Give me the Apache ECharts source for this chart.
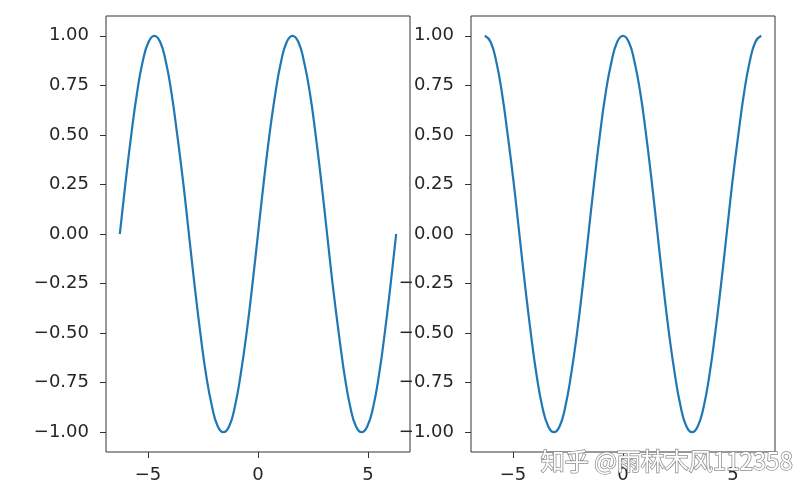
<!DOCTYPE html>
<html>
<head>
<meta charset="utf-8">
<script src="https://cdn.jsdelivr.net/npm/echarts@6/dist/echarts.min.js"></script>
<style>
  html, body { margin: 0; padding: 0; background: #fff; }
  #main { width: 812px; height: 496px; }
</style>
</head>
<body>
<div id="main"></div>
<script>
// x 取样点 (-2π .. 2π)
var xs = [-6.28, -6.02, -5.76, -5.50, -5.24, -4.97, -4.71, -4.45, -4.19, -3.93, -3.67, -3.40,
  -3.14, -2.88, -2.62, -2.36, -2.09, -1.83, -1.57, -1.31, -1.05, -0.79, -0.52, -0.26,
  0, 0.26, 0.52, 0.79, 1.05, 1.31, 1.57, 1.83, 2.09, 2.36, 2.62, 2.88,
  3.14, 3.40, 3.67, 3.93, 4.19, 4.45, 4.71, 4.97, 5.24, 5.50, 5.76, 6.02, 6.28];
// 左图 sin
var sinVals = [0, 0.26, 0.5, 0.71, 0.87, 0.97, 1, 0.97, 0.87, 0.71, 0.5, 0.26,
  0, -0.26, -0.5, -0.71, -0.87, -0.97, -1, -0.97, -0.87, -0.71, -0.5, -0.26,
  0, 0.26, 0.5, 0.71, 0.87, 0.97, 1, 0.97, 0.87, 0.71, 0.5, 0.26,
  0, -0.26, -0.5, -0.71, -0.87, -0.97, -1, -0.97, -0.87, -0.71, -0.5, -0.26, 0];
// 右图 cos
var cosVals = [1, 0.97, 0.87, 0.71, 0.5, 0.26, 0, -0.26, -0.5, -0.71, -0.87, -0.97,
  -1, -0.97, -0.87, -0.71, -0.5, -0.26, 0, 0.26, 0.5, 0.71, 0.87, 0.97,
  1, 0.97, 0.87, 0.71, 0.5, 0.26, 0, -0.26, -0.5, -0.71, -0.87, -0.97,
  -1, -0.97, -0.87, -0.71, -0.5, -0.26, 0, 0.26, 0.5, 0.71, 0.87, 0.97, 1];
var xTicks = [-5, 0, 5];
var yTicks = [-1, -0.75, -0.5, -0.25, 0, 0.25, 0.5, 0.75, 1];
var watermark = '知乎 @雨林木风112358';

var xPad = (xs[xs.length - 1] - xs[0]) * 0.05;
var xMin = xs[0] - xPad, xMax = xs[xs.length - 1] + xPad;

function fmtMinus(s) { return s.replace('-', '\u2212'); }

var font = 'DejaVu Sans';
var textColor = '#262626';
var frameColor = '#333';

function xAxisFor(gi) {
  return {
    type: 'value', gridIndex: gi, min: xMin, max: xMax, position: 'bottom',
    axisLine: { show: false, onZero: false },
    splitLine: { show: false },
    axisTick: { show: true, customValues: xTicks, length: 6, lineStyle: { color: frameColor } },
    axisLabel: {
      customValues: xTicks, margin: 14, color: textColor, fontFamily: font, fontSize: 18,
      formatter: function (v) { return fmtMinus(String(v)); }
    }
  };
}
function yAxisFor(gi) {
  return {
    type: 'value', gridIndex: gi, min: -1.1, max: 1.1, position: 'left',
    axisLine: { show: false, onZero: false },
    splitLine: { show: false },
    axisTick: { show: true, customValues: yTicks, length: 6, lineStyle: { color: frameColor } },
    axisLabel: {
      customValues: yTicks, margin: 17, color: textColor, fontFamily: font, fontSize: 18,
      formatter: function (v) { return fmtMinus(v.toFixed(2)); }
    }
  };
}
function pairs(ys) {
  return xs.map(function (x, i) { return [x, ys[i]]; });
}

var chart = echarts.init(document.getElementById('main'), null, { renderer: 'canvas' });
chart.setOption({
  animation: false,
  backgroundColor: '#fff',
  grid: [
    { left: 106, top: 16, width: 304, height: 436, show: true, borderColor: frameColor, borderWidth: 1, backgroundColor: 'transparent' },
    { left: 471, top: 16, width: 304, height: 436, show: true, borderColor: frameColor, borderWidth: 1, backgroundColor: 'transparent' }
  ],
  xAxis: [xAxisFor(0), xAxisFor(1)],
  yAxis: [yAxisFor(0), yAxisFor(1)],
  series: [
    {
      type: 'line', xAxisIndex: 0, yAxisIndex: 0, data: pairs(sinVals),
      showSymbol: false, smooth: 0.5, lineStyle: { color: '#1f77b4', width: 2.2 }
    },
    {
      type: 'line', xAxisIndex: 1, yAxisIndex: 1, data: pairs(cosVals),
      showSymbol: false, smooth: 0.5, lineStyle: { color: '#1f77b4', width: 2.2 }
    }
  ],
  graphic: [{
    type: 'text', left: 540, top: 448, z: 100,
    style: {
      text: watermark, fill: '#fff', stroke: '#8c8c8c', lineWidth: 1.5,
      font: '24px "Noto Sans CJK SC"'
    }
  }]
});
</script>
</body>
</html>
